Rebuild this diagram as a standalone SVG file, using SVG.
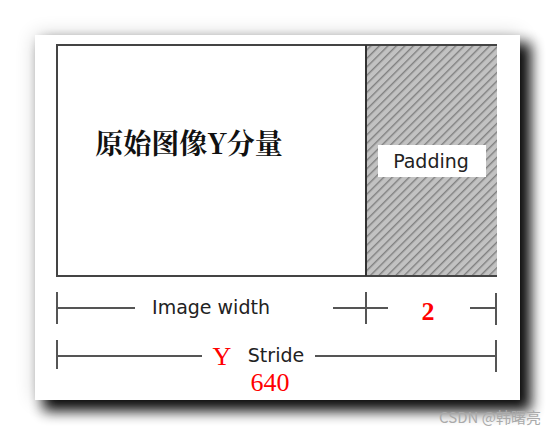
<svg xmlns="http://www.w3.org/2000/svg" width="555" height="435" viewBox="0 0 555 435">
<style>
.dim{stroke:#555;stroke-width:2;fill:none}
.lbl{font-family:"DejaVu Sans","Noto Sans",sans-serif;font-size:19px;fill:#222}
.red{font-family:"Liberation Serif","Noto Serif",serif;fill:#f00}
</style>
<defs>
<filter id="sh" x="-20%" y="-20%" width="140%" height="140%">
<feGaussianBlur stdDeviation="7"/>
</filter>
<filter id="glow" x="-20%" y="-20%" width="140%" height="140%">
<feGaussianBlur stdDeviation="10"/>
</filter>
<pattern id="hatch" patternUnits="userSpaceOnUse" width="6" height="6" patternTransform="rotate(45)">
<rect width="6" height="6" fill="#c2c2c2"/>
<rect x="0" y="0" width="1.4" height="6" fill="#808080"/>
</pattern>
</defs>
<rect width="555" height="435" fill="#fff"/>
<rect x="35" y="35" width="485" height="365" fill="#000" opacity="0.18" filter="url(#glow)"/>
<rect x="43" y="43" width="488" height="368" fill="#000" opacity="0.95" filter="url(#sh)"/>
<rect x="35" y="35" width="485" height="365" fill="#fff"/>
<g id="image">
<rect x="57" y="45" width="309" height="231" fill="#fff" stroke="#444" stroke-width="2"/>
<text x="189" y="154" text-anchor="middle" font-family="'Noto Serif CJK SC','Noto Sans CJK SC',serif" font-size="28" font-weight="bold" fill="#111">原始图像Y分量</text>
</g>
<g id="padding">
<rect x="366" y="45" width="131" height="231" fill="url(#hatch)"/>
<line x1="366" y1="45" x2="497" y2="45" stroke="#444" stroke-width="2"/>
<line x1="366" y1="276" x2="497" y2="276" stroke="#444" stroke-width="2"/>
<line x1="366" y1="45" x2="366" y2="276" stroke="#333" stroke-width="2"/>
<rect x="378" y="145" width="108" height="32" fill="#fff"/>
<text x="431" y="168" text-anchor="middle" class="lbl">Padding</text>
</g>
<g id="connectors">
<path class="dim" d="M57 292V324M57 308H135M333 308H388M366 292V324M470 308H496M496 293V325"/>
<path class="dim" d="M57 340V369M57 356H202M315 356H496M496 340V372"/>
</g>
<g id="labels">
<text x="211" y="314" text-anchor="middle" class="lbl">Image width</text>
<text x="428" y="320" text-anchor="middle" class="red" font-size="26" font-weight="bold">2</text>
<text x="222" y="365" text-anchor="middle" class="red" font-size="26">Y</text>
<text x="276" y="362" text-anchor="middle" class="lbl">Stride</text>
<text x="270" y="391" text-anchor="middle" class="red" font-size="26">640</text>
</g>
<text x="490" y="423" text-anchor="middle" font-family="'Noto Sans CJK SC',sans-serif" font-size="15" fill="#aaa">CSDN @韩曙亮</text>
</svg>
